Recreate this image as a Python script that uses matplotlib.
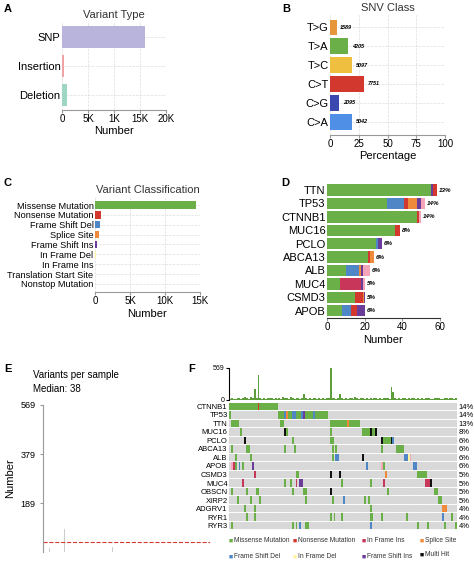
import numpy as np
import matplotlib.pyplot as plt
from matplotlib.patches import Rectangle

W, H = 474, 564

# ---- data ----
vt_labels = ["SNP", "Insertion", "Deletion"]
vt_values = [16000, 300, 900]
vt_colors = ["#b8b4db", "#f0a3a3", "#9fd6c2"]

snv_labels = ["T>G", "T>A", "T>C", "C>T", "C>G", "C>A"]
snv_pct = [6, 16, 19.5, 29.5, 8, 19.5]
snv_counts = [1589, 4205, 5097, 7751, 2095, 5042]
snv_colors = ["#e8963a", "#6aaf47", "#efbf40", "#d2382e", "#3a48b0", "#4f8fe6"]

vc_labels = ["Missense Mutation", "Nonsense Mutation", "Frame Shift Del", "Splice Site",
             "Frame Shift Ins", "In Frame Del", "In Frame Ins", "Translation Start Site",
             "Nonstop Mutation"]
vc_values = [14500, 900, 650, 500, 250, 80, 50, 20, 10]

COL = {"M": "#6aaf47", "N": "#d2382e", "FD": "#4f86c6", "S": "#ef8a3a", "FI": "#6a3d9a",
       "IFD": "#fff3a0", "IFI": "#c8375a", "P": "#f4a6b8", "X": "#111111"}
vc_colors = [COL["M"], COL["N"], COL["FD"], COL["S"], COL["FI"], COL["IFD"], COL["IFI"],
             "#bbbbbb", "#dddddd"]

d_genes = ["TTN", "TP53", "CTNNB1", "MUC16", "PCLO", "ABCA13", "ALB", "MUC4", "CSMD3", "APOB"]
d_pct = ["13%", "14%", "14%", "8%", "6%", "6%", "6%", "5%", "5%", "6%"]
d_stack = [
    [("M", 55), ("FI", 1.5), ("N", 2)],
    [("M", 32), ("FD", 9), ("N", 2), ("S", 5), ("FI", 2), ("P", 2)],
    [("M", 48), ("N", 1), ("P", 1)],
    [("M", 36), ("N", 3)],
    [("M", 26), ("FD", 1), ("FI", 2)],
    [("M", 22), ("N", 1), ("S", 2)],
    [("M", 10), ("FD", 7), ("S", 1), ("FI", 1), ("P", 4)],
    [("M", 7), ("IFI", 11), ("FI", 1), ("P", 1)],
    [("M", 15), ("N", 4), ("S", 0.7), ("FI", 0.5)],
    [("M", 8), ("FD", 5), ("N", 3), ("FI", 4)],
]

e_samples = [3, 5, 8, 12, 40, 41]
e_values = [15, 20, 10, 90, 12, 18]
e_median = 38

f_genes = ["CTNNB1", "TP53", "TTN", "MUC16", "PCLO", "ABCA13", "ALB", "APOB", "CSMD3",
           "MUC4", "OBSCN", "XIRP2", "ADGRV1", "RYR1", "RYR3"]
f_pct = ["14%", "14%", "13%", "8%", "6%", "6%", "6%", "6%", "5%", "5%", "5%", "5%", "4%", "4%", "4%"]
n_samples = 120
# (start, end, type) per gene
f_cells = {
    "CTNNB1": [(0, 15, "M"), (15, 16, "N"), (16, 26, "M")],
    "TP53": [(0, 1, "M"), (26, 29, "M"), (29, 30, "FD"), (30, 31, "S"), (31, 33, "M"),
             (33, 35, "FD"), (35, 38, "M"), (38, 39, "FD"), (39, 40, "FI"), (40, 44, "M"),
             (44, 45, "FD"), (45, 52, "M")],
    "TTN": [(1, 5, "M"), (27, 29, "M"), (53, 62, "M"), (62, 63, "S"), (63, 69, "M")],
    "MUC16": [(6, 7, "M"), (29, 30, "X"), (30, 31, "M"), (53, 54, "M"), (70, 74, "M"),
              (74, 75, "X"), (75, 77, "M"), (77, 78, "X")],
    "PCLO": [(8, 9, "X"), (33, 34, "M"), (53, 55, "M"), (80, 81, "X"), (81, 85, "M"),
             (85, 86, "X"), (86, 87, "FD")],
    "ABCA13": [(1, 2, "M"), (9, 11, "M"), (29, 30, "M"), (34, 35, "M"), (54, 55, "M"),
               (56, 57, "M"), (80, 81, "M"), (88, 92, "M")],
    "ALB": [(3, 4, "M"), (11, 12, "M"), (54, 55, "M"), (56, 58, "FD"), (70, 71, "X"),
            (92, 94, "FD"), (94, 95, "IFD"), (95, 96, "P")],
    "APOB": [(1, 2, "P"), (2, 3, "IFI"), (3, 4, "M"), (5, 6, "FD"), (7, 8, "M"), (12, 13, "FI"),
             (72, 73, "FD"), (80, 81, "P"), (81, 82, "M"), (97, 99, "FD")],
    "CSMD3": [(13, 14, "IFI"), (35, 37, "M"), (53, 54, "X"), (58, 59, "X"), (82, 83, "S"),
              (99, 100, "M"), (100, 104, "M")],
    "MUC4": [(7, 8, "IFI"), (29, 30, "M"), (32, 33, "M"), (35, 36, "IFI"), (37, 39, "FI"),
             (59, 60, "M"), (74, 75, "M"), (81, 82, "IFI"), (103, 106, "IFI"), (106, 107, "X")],
    "OBSCN": [(1, 2, "M"), (9, 10, "M"), (14, 16, "M"), (33, 34, "M"), (39, 40, "M"),
              (40, 41, "M"), (53, 54, "X"), (83, 84, "M"), (108, 110, "M")],
    "XIRP2": [(4, 5, "M"), (11, 12, "M"), (16, 17, "M"), (40, 41, "M"), (54, 55, "M"),
              (60, 61, "FD"), (71, 72, "M"), (73, 74, "M"), (110, 112, "M")],
    "ADGRV1": [(8, 9, "M"), (13, 14, "M"), (74, 75, "M"), (112, 115, "S")],
    "RYR1": [(9, 10, "M"), (13, 14, "M"), (53, 54, "M"), (55, 56, "M"), (59, 60, "M"),
             (74, 76, "M"), (80, 81, "M"), (93, 94, "M"), (112, 113, "FD"), (117, 118, "M")],
    "RYR3": [(1, 2, "M"), (33, 34, "M"), (35, 36, "M"), (37, 38, "FD"), (40, 42, "M"),
             (74, 75, "FD"), (99, 100, "M"), (104, 105, "M"), (113, 114, "M"), (119, 120, "M")],
}
f_top = [20, 35, 25, 18, 40, 30, 22, 28, 45, 30, 25, 60, 30, 200, 35, 450, 40, 25, 30, 20,
         35, 28, 40, 22, 30, 25, 35, 20, 45, 30, 40, 25, 55, 30, 20, 40, 30, 25, 35, 100,
         30, 25, 40, 20, 30, 35, 25, 30, 20, 40, 25, 30, 35, 569, 40, 30, 25, 35, 100, 30,
         20, 40, 25, 30, 35, 20, 60, 30, 25, 35, 40, 25, 30, 20, 35, 25, 40, 30, 20, 35,
         25, 30, 40, 35, 25, 230, 150, 30, 25, 35, 20, 30, 40, 25, 30, 20, 35, 30, 25, 40,
         20, 30, 25, 35, 40, 30, 20, 25, 35, 30, 40, 25, 20, 30, 35, 25, 30, 40, 25, 30]

plt.rcParams['font.family'] = ['Liberation Sans', 'DejaVu Sans']
fig = plt.figure(figsize=(W / 100, H / 100), dpi=100)


def box(x1, y1, x2, y2):
    return fig.add_axes([x1 / W, 1 - y2 / H, (x2 - x1) / W, (y2 - y1) / H])


def style(ax, grid=True):
    for s in ["top", "right", "left"]:
        ax.spines[s].set_visible(False)
    ax.spines["bottom"].set_color("#999999")
    ax.tick_params(length=2, color="#999999", labelsize=7, pad=1)
    ax.tick_params(axis="y", length=0, labelsize=8)
    if grid:
        ax.grid(True, color="#dddddd", linestyle="--", linewidth=0.5)
        ax.set_axisbelow(True)


# A
ax = box(62, 22, 166, 110)
y = np.arange(len(vt_labels))
ax.barh(y, vt_values, color=vt_colors, height=0.75)
ax.set_yticks(y, vt_labels)
ax.invert_yaxis()
ax.set_xlim(0, 20000)
ax.set_xticks([0, 5000, 10000, 15000, 20000], ["0", "5K", "1K", "15K", "20K"])
ax.set_xlabel("Number", fontsize=8, labelpad=1)
ax.set_title("Variant Type", fontsize=8, color="#333333", pad=3)
style(ax)
fig.text(4 / W, 1 - 12 / H, "A", fontsize=8, fontweight="bold")

# B
ax = box(330, 14, 445, 135)
y = np.arange(len(snv_labels))
ax.barh(y, snv_pct, color=snv_colors, height=0.8)
for yi, v, c in zip(y, snv_pct, snv_counts):
    ax.text(v + 3, yi, str(c), fontsize=4, style="italic", fontweight="bold", va="center")
ax.set_yticks(y, snv_labels)
ax.invert_yaxis()
ax.set_xlim(0, 100)
ax.set_xticks([0, 25, 50, 75, 100])
ax.set_xlabel("Percentage", fontsize=8, labelpad=1)
ax.set_title("SNV Class", fontsize=8, color="#333333", pad=2)
style(ax)
fig.text(282 / W, 1 - 12 / H, "B", fontsize=8, fontweight="bold")

# C
ax = box(95, 197, 200, 292)
y = np.arange(len(vc_labels))
ax.barh(y, vc_values, color=vc_colors, height=0.75)
ax.set_yticks(y, vc_labels)
ax.invert_yaxis()
ax.set_xlim(0, 15000)
ax.set_xticks([0, 5000, 10000, 15000], ["0", "5K", "10K", "15K"])
ax.set_xlabel("Number", fontsize=8, labelpad=2)
ax.set_title("Variant Classification", fontsize=8, color="#333333", pad=3)
style(ax)
ax.tick_params(axis="y", labelsize=6.6)
fig.text(4 / W, 1 - 186 / H, "C", fontsize=8, fontweight="bold")

# D
ax = box(327, 184, 440, 318)
for i, segs in enumerate(d_stack):
    left = 0
    for t, v in segs:
        ax.barh(i, v, left=left, color=COL[t], height=0.85)
        left += v
    ax.text(left + 1, i, d_pct[i], fontsize=4.5, style="italic", fontweight="bold", va="center")
ax.set_yticks(range(len(d_genes)), d_genes)
ax.invert_yaxis()
ax.set_ylim(len(d_genes) - 0.45, -0.45)
ax.set_xlim(0, 60)
ax.set_xticks([0, 20, 40, 60])
ax.spines["left"].set_visible(False)
style(ax, grid=False)
ax.spines["bottom"].set_color("#333333")
ax.set_xlabel("Number", fontsize=8, labelpad=2)
fig.text(281 / W, 1 - 186 / H, "D", fontsize=8, fontweight="bold")

# E
ax = box(43, 405, 210, 552)
ax.bar(e_samples, e_values, width=0.3, color="#cccccc")
ax.axhline(e_median, color="#d2382e", linestyle="--", linewidth=0.8)
ax.set_xlim(-1, 100)
ax.set_ylim(0, 569)
ax.set_yticks([189, 379, 569])
ax.set_xticks([])
for s in ["top", "right", "bottom"]:
    ax.spines[s].set_visible(False)
ax.spines["left"].set_color("#999999")
ax.tick_params(axis="y", labelsize=6.5, length=2, color="#999999")
ax.set_ylabel("Number", fontsize=8)
fig.text(33 / W, 1 - 382 / H, "Variants per sample\nMedian: 38", fontsize=7, va="center",
         linespacing=1.4)
fig.text(4 / W, 1 - 372 / H, "E", fontsize=8, fontweight="bold")

# F top bars
ax = box(229, 368, 457, 400)
ax.bar(np.arange(n_samples) + 0.5, f_top, width=1.0, color="#5e9e3a", linewidth=0)
ax.set_xlim(0, n_samples)
ax.set_ylim(0, 569)
ax.set_yticks([0, 569])
ax.set_xticks([])
for s in ["top", "right", "bottom"]:
    ax.spines[s].set_visible(False)
ax.tick_params(axis="y", labelsize=5, length=2, pad=1)
fig.text(188 / W, 1 - 372 / H, "F", fontsize=8, fontweight="bold")

# F matrix
ax = box(229, 402, 457, 530)
ng = len(f_genes)
for gi in range(ng):
    ax.add_patch(Rectangle((0, gi + 0.06), n_samples, 0.88, color="#d6d6d6", lw=0))
    for s0, s1, t in f_cells[f_genes[gi]]:
        ax.add_patch(Rectangle((s0, gi + 0.06), s1 - s0, 0.88, color=COL[t], lw=0, zorder=3))
ax.vlines(np.arange(1, n_samples), 0, ng, color="#e6e6e6", lw=0.2, zorder=2)
ax.set_xlim(0, n_samples)
ax.set_ylim(ng, 0)
ax.set_yticks(np.arange(ng) + 0.5, f_genes)
ax.set_xticks([])
for s in ax.spines.values():
    s.set_visible(False)
ax.tick_params(axis="y", labelsize=5.5, length=0, pad=1)
ax2 = ax.twinx()
ax2.set_ylim(ng, 0)
ax2.set_yticks(np.arange(ng) + 0.5, f_pct)
ax2.tick_params(axis="y", labelsize=5.5, length=0, pad=1)
for s in ax2.spines.values():
    s.set_visible(False)

leg = [("Missense Mutation", "M", 229, 541), ("Nonsense Mutation", "N", 293, 541),
       ("In Frame Ins", "IFI", 362, 541), ("Splice Site", "S", 420, 541),
       ("Frame Shift Del", "FD", 229, 557), ("In Frame Del", "IFD", 293, 557),
       ("Frame Shift Ins", "FI", 362, 557), ("Multi Hit", "X", 420, 555)]
for name, t, x, yy in leg:
    fig.text(x / W, 1 - yy / H, "\u25A0", color=COL[t], fontsize=5, va="center")
    fig.text((x + 5) / W, 1 - yy / H, name, fontsize=4.8, va="center", color="#333333")

fig.savefig("out.png", dpi=100)
